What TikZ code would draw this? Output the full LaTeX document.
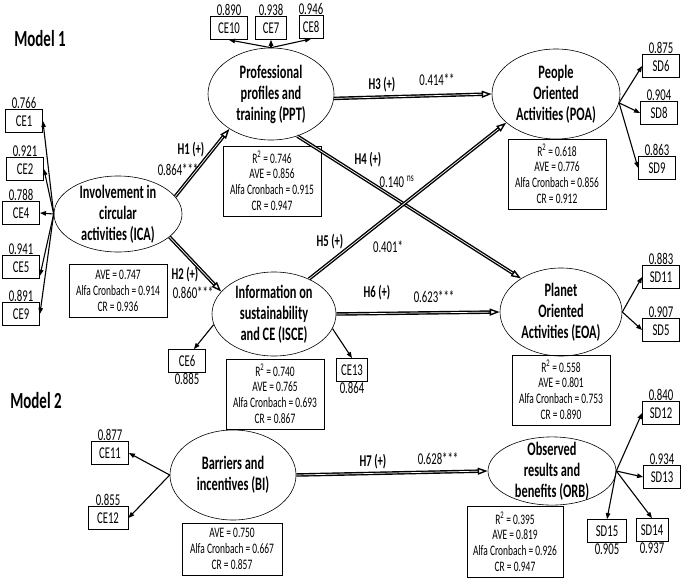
\documentclass[tikz,border=0pt]{standalone}
\usepackage{fontspec}
\setmainfont{Carlito}[FakeStretch=0.65]
\usepackage{tikz}
\usetikzlibrary{shapes.geometric}
\usetikzlibrary{arrows.meta}
\tikzset{
  construct/.style={%
    draw,
    ellipse,
    line width=0.6pt,
    inner sep=-5pt,
    align=center,
    font=\fontsize{19}{21}\selectfont\bfseries,
    minimum width=128pt,
    minimum height=88pt,
  },
  stats/.style={%
    draw,
    line width=0.8pt,
    inner sep=0,
    align=center,
    font=\fontsize{14.5}{15.8}\selectfont,
    minimum width=98pt,
    minimum height=70pt,
  },
  indicator/.style={%
    draw,
    line width=0.8pt,
    inner sep=0,
    font=\fontsize{16.5}{18}\selectfont,
    minimum width=37pt,
    minimum height=23pt,
  },
  loading/.style={font=\fontsize{16.5}{18}\selectfont,inner sep=0.5pt,label distance=0pt},
  hypo/.style={font=\fontsize{16.5}{18}\selectfont\bfseries},
  coef/.style={font=\fontsize{16.5}{18}\selectfont},
  title/.style={font=\fontsize{23}{26}\selectfont\bfseries},
  path/.style={%
    double,
    double distance=0.7pt,
    line width=1.4pt,
    -{Triangle[open,length=10pt,width=7pt]},
  },
  load/.style={line width=1.1pt,-{Triangle[length=6pt,width=4.5pt]}},
}
\newcommand\Indicator[6][]{% name, position, text, label side, loading
  \node (#2) [indicator,#1,label={[loading]#5:#6}] at (#3) {#4};
}

\begin{document}
\begin{tikzpicture}[x=1pt,y=-1pt]
    \useasboundingbox (0,0) rectangle (685,586);
    \node (model1) [title] at (40,39) {Model 1};
    \node (model2) [title] at (36,401) {Model 2};

    % latent constructs
    \node (ica) [construct,minimum height=76pt] at (118,214) {Involvement in\\circular\\activities (ICA)};
    \node (ppt) [construct,minimum width=126pt,minimum height=92pt] at (271,94) {Professional\\profiles and\\training (PPT)};
    \node (isce) [construct,minimum width=124pt,minimum height=84pt] at (274,314) {Information on\\sustainability\\and CE (ISCE)};
    \node (poa) [construct,minimum height=90pt] at (556,94) {People\\Oriented\\Activities (POA)};
    \node (eoa) [construct,minimum width=122pt] at (561,312) {Planet\\Oriented\\Activities (EOA)};
    \node (bi) [construct,minimum width=126pt,minimum height=90pt] at (233,475) {Barriers and\\incentives (BI)};
    \node (orb) [construct,minimum height=68pt] at (552,471) {Observed\\results and\\benefits (ORB)};

    % quality criteria
    \node (icastats) [stats,minimum height=53pt] at (118,291) {AVE = 0.747\\Alfa Cronbach = 0.914\\CR = 0.936};
    \node (pptstats) [stats] at (272,181) {R\textsuperscript{2} = 0.746\\AVE = 0.856\\Alfa Cronbach = 0.915\\CR = 0.947};
    \node (iscestats) [stats] at (275,394) {R\textsuperscript{2} = 0.740\\AVE = 0.765\\Alfa Cronbach = 0.693\\CR = 0.867};
    \node (poastats) [stats] at (557,174) {R\textsuperscript{2} = 0.618\\AVE = 0.776\\Alfa Cronbach = 0.856\\CR = 0.912};
    \node (eoastats) [stats] at (561,390) {R\textsuperscript{2} = 0.558\\AVE = 0.801\\Alfa Cronbach = 0.753\\CR = 0.890};
    \node (bistats) [stats,minimum width=100pt,minimum height=52pt] at (232,549) {AVE = 0.750\\Alfa Cronbach = 0.667\\CR = 0.857};
    \node (orbstats) [stats,minimum width=96pt,minimum height=71pt] at (515,542) {R\textsuperscript{2} = 0.395\\AVE = 0.819\\Alfa Cronbach = 0.926\\CR = 0.947};

    % indicators
    \Indicator{ce1}{24,121}{CE1}{above}{0.766}
    \Indicator{ce2}{25,169}{CE2}{above}{0.921}
    \Indicator{ce4}{21,213}{CE4}{above}{0.788}
    \Indicator{ce5}{21,267}{CE5}{above}{0.941}
    \Indicator{ce9}{21,314}{CE9}{above}{0.891}
    \Indicator{ce10}{229,28}{CE10}{above}{0.890}
    \Indicator[minimum width=31pt]{ce7}{271,28}{CE7}{above}{0.938}
    \Indicator[minimum width=24pt]{ce8}{311,27}{CE8}{above}{0.946}
    \Indicator{ce6}{187,361}{CE6}{below}{0.885}
    \Indicator[minimum width=31pt]{ce13}{352,370}{CE13}{below}{0.864}
    \Indicator{sd6}{661,66}{SD6}{above}{0.875}
    \Indicator{sd8}{659,113}{SD8}{above}{0.904}
    \Indicator{sd9}{657,168}{SD9}{above}{0.863}
    \Indicator{sd11}{661,277}{SD11}{above}{0.883}
    \Indicator{sd5}{661,330}{SD5}{above}{0.907}
    \Indicator{ce11}{110,453}{CE11}{above}{0.877}
    \Indicator[minimum width=40pt]{ce12}{108,518}{CE12}{above}{0.855}
    \Indicator{sd12}{661,413}{SD12}{above}{0.840}
    \Indicator{sd13}{662,477}{SD13}{above}{0.934}
    \Indicator[minimum width=32pt]{sd14}{652,530}{SD14}{below}{0.937}
    \Indicator[minimum width=39pt]{sd15}{607,531}{SD15}{below}{0.905}

    % outer loadings
    \foreach \item in {ce1,ce2,ce4,ce9}
        \draw [load] (ica.west) -- (\item.east);
    \draw [load] (ica.west) -- (ce5.-25);
    \foreach \item in {ce10,ce7,ce8}
        \draw [load] (ppt.north) -- (\item.south);
    \draw [load] (isce.190) -- (ce6.60);
    \draw [load] (isce.-14) -- (ce13.north);
    \foreach \item in {sd6,sd8,sd9}
        \draw [load] (poa.-8) -- (\item.west);
    \foreach \item in {sd11,sd5}
        \draw [load] (eoa.east) -- (\item.west);
    \foreach \item in {ce11,ce12}
        \draw [load] (bi.west) -- (\item.east);
    \foreach \item in {sd12,sd13}
        \draw [load] (orb.east) -- (\item.west);
    \foreach \item in {sd14,sd15}
        \draw [load] (orb.east) -- (\item.north);

    % structural paths
    \draw [path] (ica.17) -- (ppt.220);
    \draw [path] (ica.-24) -- (isce.157);
    \draw [path] (ppt.-4) -- (poa.180);
    \draw [path] (ppt.-58) -- (eoa.140);
    \draw [path] (isce.45) -- (poa.210);
    \draw [path] (isce.east) -- (eoa.west);
    \draw [path] (bi.east) -- (orb.west);

    \node (h1) [hypo] at (191,150) {H1 (+)};
    \node (b1) [coef] at (178,170) {0.864***};
    \node (h2) [hypo] at (185,275) {H2 (+)};
    \node (b2) [coef] at (193,293) {0.860***};
    \node (h3) [hypo] at (382,85) {H3 (+)};
    \node (b3) [coef] at (437,80) {0.414**};
    \node (h4) [hypo] at (368,160) {H4 (+)};
    \node (b4) [coef] at (397,182) {0.140\,\textsuperscript{ns}};
    \node (h5) [hypo] at (330,242) {H5 (+)};
    \node (b5) [coef] at (388,247) {0.401*};
    \node (h6) [hypo] at (377,293) {H6 (+)};
    \node (b6) [coef] at (434,297) {0.623***};
    \node (h7) [hypo] at (373,462) {H7 (+)};
    \node (b7) [coef] at (438,459) {0.628***};
\end{tikzpicture}
\end{document}
